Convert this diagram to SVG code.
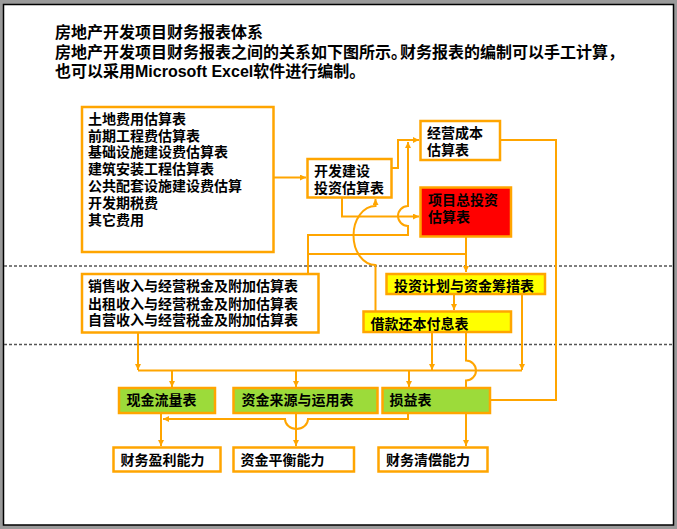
<svg xmlns="http://www.w3.org/2000/svg" width="677" height="529" viewBox="0 0 677 529">
<defs>
<marker id="ah" markerUnits="userSpaceOnUse" markerWidth="7" markerHeight="7" refX="6" refY="3" orient="auto"><path d="M0,0 L6,3 L0,6 z" fill="#FFA500"/></marker>
</defs>
<style>
.box{stroke:#FFA500;stroke-width:2.5;fill:#fff}
.red{fill:#FF0000}
.yel{fill:#FFFF00}
.grn{fill:#9CDB3A}
.t{font-family:"Liberation Sans","Noto Sans CJK SC",sans-serif;font-weight:bold;font-size:14px;fill:#000}
.title{font-family:"Liberation Sans","Noto Sans CJK SC",sans-serif;font-weight:bold;font-size:16px;fill:#000}
.c{fill:none;stroke:#FFA500;stroke-width:2}
.a{marker-end:url(#ah)}
.dash{stroke:#555;stroke-width:1.3;stroke-dasharray:3 2}
</style>
<rect x="0" y="0" width="677" height="529" fill="#9a9a9a"/>
<rect x="3.5" y="4.5" width="670" height="520.5" fill="#fff" stroke="#000" stroke-width="1.5"/>
<g id="title">
<text class="title" x="55" y="38">房地产开发项目财务报表体系</text>
<text class="title" x="55" y="57.5">房地产开发项目财务报表之间的关系如下图所示。<tspan dx="-7">财务报表的编制可以手工计算，</tspan></text>
<text class="title" x="55" y="76.5">也可以采用Microsoft Excel软件进行编制。</text>
</g>
<line class="dash" x1="4" y1="266" x2="673" y2="266"/>
<line class="dash" x1="4" y1="344.5" x2="673" y2="344.5"/>
<g id="connectors">
<path class="c a" d="M274,177.5 H306"/>
<path class="c a" d="M392,168 H398 V140 H419"/>
<path class="c a" d="M308,273 V235 H408 V226 A10,10 0 0 1 408,206 V142"/>
<path class="c a" d="M342,198 V216.5 H419"/>
<path class="c a" d="M375.5,311 V265 A22,29.5 0 0 1 375.5,206 V199"/>
<path class="c" d="M308,254 H466"/>
<path class="c a" d="M466,237 V272"/>
<path class="c a" d="M454,294 V310"/>
<path class="c" d="M138,370.5 H522"/>
<path class="c a" d="M138,333 V370"/>
<path class="c a" d="M432,332 V370"/>
<path class="c a" d="M522,294 V370"/>
<path class="c a" d="M172,370.5 V387"/>
<path class="c a" d="M296,370.5 V387"/>
<path class="c a" d="M409,370.5 V387"/>
<path class="c" d="M466,332 V360.5 A10,10 0 0 1 466,380.5 V388"/>
<path class="c" d="M500,140 H556 V400 H490"/>
<path class="c a" d="M408,413 V419 H308 A11.5,10 0 0 1 285,419 H163"/>
<path class="c a" d="M161,413 V446"/>
<path class="c a" d="M296,413 V446"/>
<path class="c a" d="M466,413 V446"/>
</g>
<g id="n1">
<rect class="box" x="82" y="107" width="191.5" height="145"/>
<text class="t" x="88" y="123.5">土地费用估算表</text>
<text class="t" x="88" y="140.5">前期工程费估算表</text>
<text class="t" x="88" y="157.3">基础设施建设费估算表</text>
<text class="t" x="88" y="174.1">建筑安装工程估算表</text>
<text class="t" x="88" y="190.9">公共配套设施建设费估算</text>
<text class="t" x="88" y="207.7">开发期税费</text>
<text class="t" x="88" y="224.5">其它费用</text>
</g>
<g id="n2">
<rect class="box" x="307.5" y="159" width="84" height="38.5"/>
<text class="t" x="314" y="175.5">开发建设</text>
<text class="t" x="314" y="193">投资估算表</text>
</g>
<g id="n3">
<rect class="box" x="420.5" y="121" width="79.5" height="39"/>
<text class="t" x="427" y="138">经营成本</text>
<text class="t" x="427" y="154.5">估算表</text>
</g>
<g id="n4">
<rect class="box red" x="420.5" y="187.5" width="90.5" height="49"/>
<text class="t" x="428" y="204.5">项目总投资</text>
<text class="t" x="428" y="222">估算表</text>
</g>
<g id="n5">
<rect class="box" x="82" y="274" width="236.5" height="58.5"/>
<text class="t" x="88" y="291.3">销售收入与经营税金及附加估算表</text>
<text class="t" x="88" y="308.5">出租收入与经营税金及附加估算表</text>
<text class="t" x="88" y="324.6">自营收入与经营税金及附加估算表</text>
</g>
<g id="n6">
<rect class="box yel" x="386.5" y="274" width="158.5" height="20"/>
<text class="t" x="394" y="291">投资计划与资金筹措表</text>
</g>
<g id="n7">
<rect class="box yel" x="363.5" y="311.5" width="147.5" height="20.5"/>
<text class="t" x="370.5" y="329.3">借款还本付息表</text>
</g>
<g id="n8">
<rect class="box grn" x="119" y="388" width="96" height="25"/>
<text class="t" x="126.5" y="405.3">现金流量表</text>
</g>
<g id="n9">
<rect class="box grn" x="233.5" y="388" width="144" height="25"/>
<text class="t" x="241.5" y="405.3">资金来源与运用表</text>
</g>
<g id="n10">
<rect class="box grn" x="382.5" y="388" width="107.5" height="25"/>
<text class="t" x="389.5" y="405.3">损益表</text>
</g>
<g id="n11">
<rect class="box" x="113.5" y="447.5" width="107" height="24"/>
<text class="t" x="120.5" y="464.5">财务盈利能力</text>
</g>
<g id="n12">
<rect class="box" x="233.5" y="447.5" width="120.5" height="24"/>
<text class="t" x="240.5" y="464.5">资金平衡能力</text>
</g>
<g id="n13">
<rect class="box" x="378.5" y="447.5" width="109" height="24"/>
<text class="t" x="386" y="464.5">财务清偿能力</text>
</g>
</svg>
